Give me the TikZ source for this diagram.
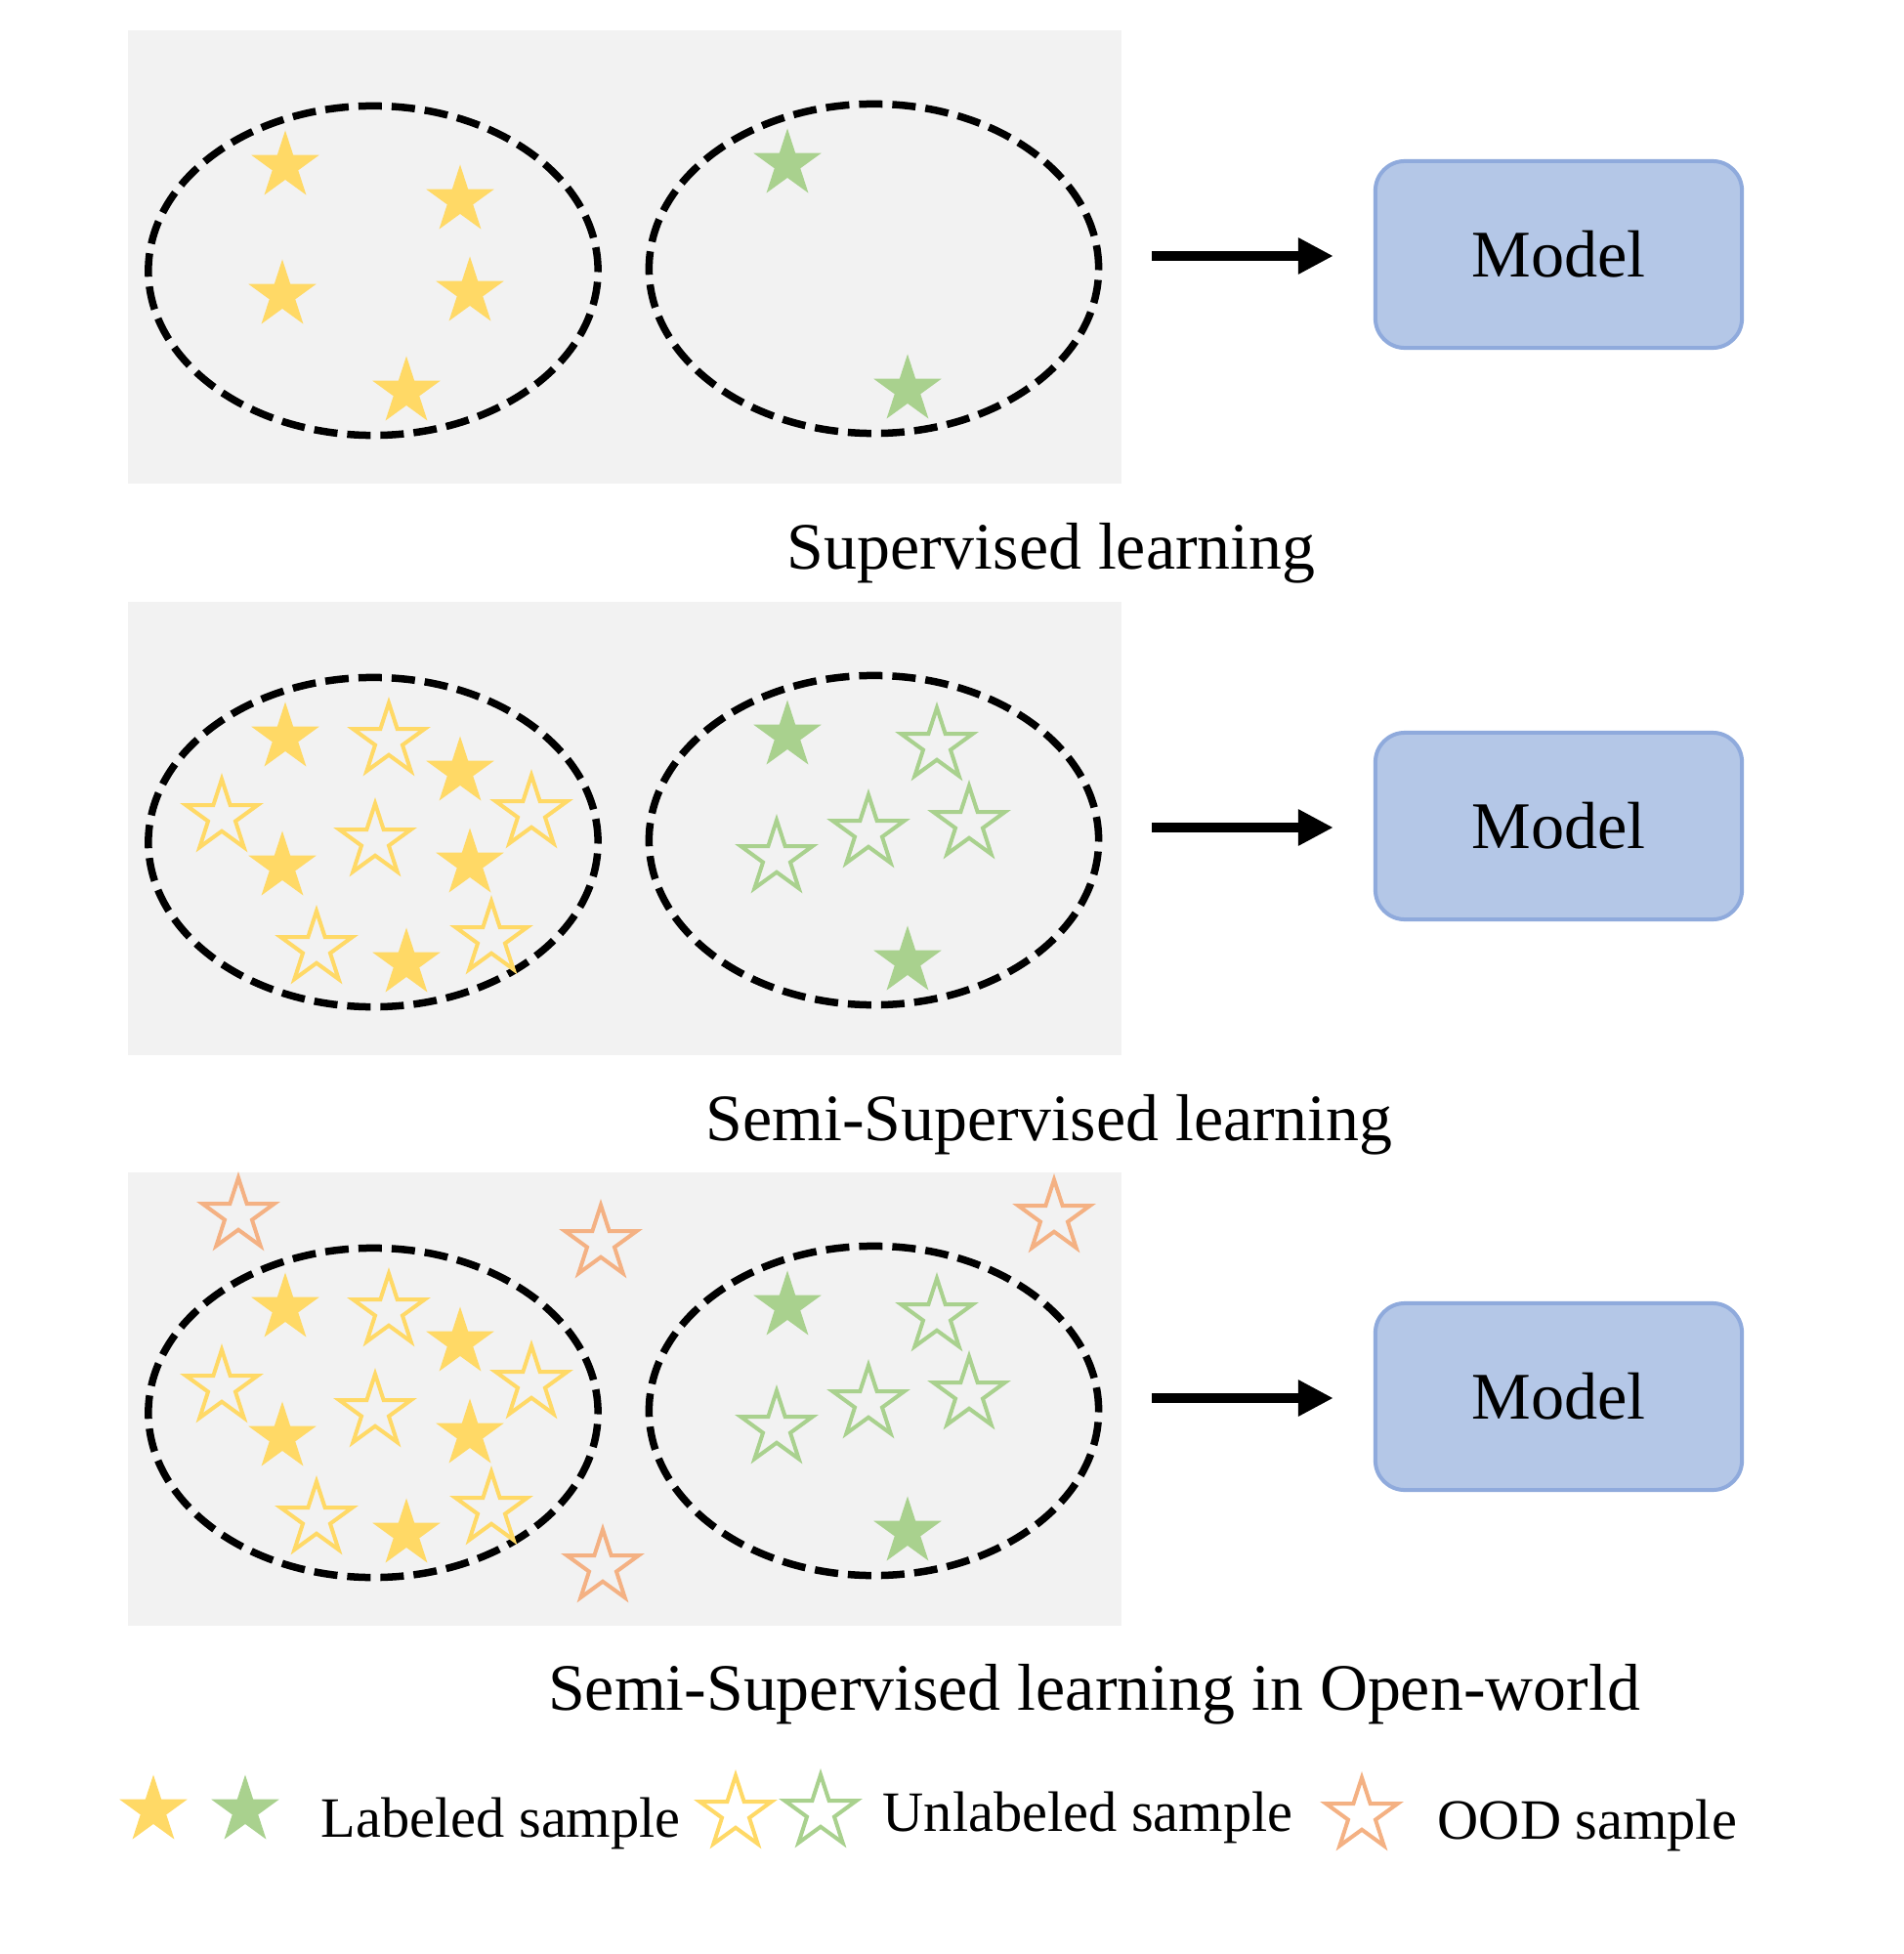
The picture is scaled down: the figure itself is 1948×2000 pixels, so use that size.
\documentclass[tikz,border=0pt]{standalone}
\usepackage{fontspec}
\setmainfont{Liberation Serif}
\usetikzlibrary{shapes.geometric,arrows.meta}
\definecolor{bggray}{HTML}{F2F2F2}
\definecolor{sy}{HTML}{FFD966}
\definecolor{sg}{HTML}{A9D18E}
\definecolor{so}{HTML}{F4B183}
\definecolor{mfill}{HTML}{B4C7E7}
\definecolor{mdraw}{HTML}{8FAADC}

\newcommand\basepanel[1]{%
  \fill[bggray] (131,31) rectangle (1148,495);
  \node[cluster] (L) at (382,277) {};
  \node[cluster] (R) at (894.5,275) {};
  \node[fstar=sy] (y1) at (292,170) {};
  \node[fstar=sy] (y2) at (471,205) {};
  \node[fstar=sy] (y3) at (289,302) {};
  \node[fstar=sy] (y4) at (481,299) {};
  \node[fstar=sy] (y5) at (416,401) {};
  \node[fstar=sg] (g1) at (806,168) {};
  \node[fstar=sg] (g2) at (929,399) {};
  \node[model] (M) at (1595.5,260.5) {Model};
  \coordinate (as) at (1179,262);
  \draw[bigarrow] (as) -- (as -| M.west);
  \node[caption] (cap) at (#1) {\capt};
}
\newcommand\unlabeledset{%
  \node[ostar=sy] (u1) at (398,173) {};
  \node[ostar=sy] (u2) at (544,247) {};
  \node[ostar=sy] (u3) at (227,251) {};
  \node[ostar=sy] (u4) at (384,276) {};
  \node[ostar=sy] (u5) at (503,376) {};
  \node[ostar=sy] (u6) at (324,386) {};
  \node[ostar=sg] (v1) at (959,178) {};
  \node[ostar=sg] (v2) at (889,267) {};
  \node[ostar=sg] (v3) at (992,258) {};
  \node[ostar=sg] (v4) at (795,293) {};
}
\newcommand\capt{}

\begin{document}
\begin{tikzpicture}[x=0.01cm,y=-0.01cm,
  cluster/.style={ellipse, draw=black, line width=0.075cm, dash pattern=on 0.24cm off 0.1cm,
    minimum width=4.6cm, minimum height=3.37cm, inner sep=0},
  fstar/.style={star, star points=5, star point ratio=2.618, minimum size=0.73cm,
    inner sep=0, fill=#1, draw=none},
  ostar/.style={star, star points=5, star point ratio=2.618, minimum size=0.77cm,
    inner sep=0, draw=#1, line width=0.04cm, fill=none},
  model/.style={rectangle, rounded corners=0.3cm, fill=mfill, draw=mdraw, line width=0.04cm,
    minimum width=3.75cm, minimum height=1.91cm, inner sep=0,
    font=\fontsize{19.4}{23}\selectfont},
  bigarrow/.style={line width=0.1cm, shorten >=0.41cm, -{Triangle[length=0.36cm,width=0.35cm]}},
  caption/.style={anchor=base, font=\fontsize{19.3}{23}\selectfont},
  legtext/.style={anchor=base west, inner sep=0, font=\fontsize{16.6}{20}\selectfont}
]
\useasboundingbox (0,0) rectangle (1948,2000);
\fill[white] (0,0) rectangle (1948,2000);

% Panel 1: supervised
\begin{scope}[name prefix=p1-]
  \renewcommand\capt{Supervised learning}
  \basepanel{1076,582}
\end{scope}

% Panel 2: semi-supervised
\begin{scope}[shift={(0,585)}, name prefix=p2-]
  \renewcommand\capt{Semi-Supervised learning}
  \basepanel{1074,582}
  \unlabeledset
\end{scope}

% Panel 3: open-world
\begin{scope}[shift={(0,1169)}, name prefix=p3-]
  \renewcommand\capt{Semi-Supervised learning in Open-world}
  \basepanel{1120,581}
  \unlabeledset
  \node[ostar=so] (o1) at (244,75) {};
  \node[ostar=so] (o2) at (615,103) {};
  \node[ostar=so] (o3) at (1079,77) {};
  \node[ostar=so] (o4) at (617,435) {};
\end{scope}

% Legend
\node[fstar=sy] (ly) at (157,1853) {};
\node[fstar=sg] (lg) at (251,1853) {};
\node[legtext] (lt1) at (328,1880) {Labeled sample};
\node[ostar=sy] (luy) at (753,1856) {};
\node[ostar=sg] (lug) at (840,1855) {};
\node[legtext] (lt2) at (903,1874) {Unlabeled sample};
\node[ostar=so] (lo) at (1394,1858) {};
\node[legtext] (lt3) at (1471,1882) {OOD sample};
\end{tikzpicture}
\end{document}
